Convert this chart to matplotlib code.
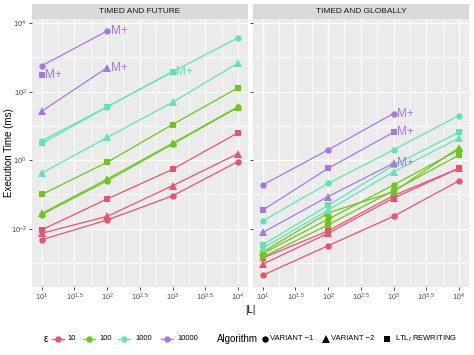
import matplotlib
matplotlib.use("Agg")
import matplotlib.pyplot as plt
import numpy as np
from matplotlib.lines import Line2D

plt.rcParams['font.family'] = ['Liberation Sans', 'DejaVu Sans']
plt.rcParams['mathtext.fontset'] = 'custom'
plt.rcParams['mathtext.rm'] = 'Liberation Sans'
plt.rcParams['mathtext.it'] = 'Liberation Sans:italic'

L = [10, 100, 1000, 10000]
eps_levels = ["10", "100", "1000", "10000"]
algorithms = ["VARIANT \u22121", "VARIANT \u22122", "LTL$_f$ REWRITING"]
nan = np.nan

# Execution time (ms); rows: VARIANT-1 (circle), VARIANT-2 (triangle), LTLf rewriting (square)
future_eps10 = [[0.0048, 0.018, 0.091, 0.91],
                [0.0074, 0.023, 0.18, 1.55],
                [0.0093, 0.074, 0.54, 6.3]]
future_eps100 = [[0.026, 0.25, 2.95, 34.7],
                 [0.028, 0.28, 3.1, 36],
                 [0.10, 0.87, 11, 129]]
future_eps1000 = [[3.7, 36, 380, 3700],
                  [0.42, 4.6, 49, 680],
                  [3.1, 36, 380, nan]]
future_eps10000 = [[570, 5900, nan, nan],
                   [27, 500, nan, nan],
                   [300, nan, nan, nan]]

glob_eps10 = [[0.00044, 0.0032, 0.023, 0.25],
              [0.00093, 0.0074, 0.078, 0.58],
              [0.0014, 0.0087, 0.093, 0.58]]
glob_eps100 = [[0.0019, 0.019, 0.19, 2.0],
               [0.0021, 0.029, 0.12, 2.3],
               [0.0015, 0.013, 0.13, 1.4]]
glob_eps1000 = [[0.017, 0.21, 2.0, 20],
                [0.0027, 0.035, 0.46, 4.4],
                [0.0034, 0.048, 0.71, 6.5]]
glob_eps10000 = [[0.19, 2.0, 23, nan],
                 [0.0078, 0.087, 0.81, nan],
                 [0.035, 0.58, 6.5, nan]]

# series ending in memory-out ("M+"): (eps index, algorithm index)
future_mplus = [(3, 0), (3, 1), (3, 2), (2, 2)]
glob_mplus = [(3, 0), (3, 1), (3, 2)]

panels = [("TIMED AND FUTURE", [future_eps10, future_eps100, future_eps1000, future_eps10000], future_mplus),
          ("TIMED AND GLOBALLY", [glob_eps10, glob_eps100, glob_eps1000, glob_eps10000], glob_mplus)]

colors = ["#F0506E", "#6CC818", "#5CE6B6", "#A678E6"]
markers = ["o", "^", "s"]
msizes = [4.6, 5.2, 4.4]

W, H = 474, 355
fig = plt.figure(figsize=(W / 100, H / 100), dpi=100)

def fx(px):
    return px / W

def fy(py):
    return 1 - py / H

panel_x = [(32, 248), (253, 469)]
top, bottom, strip_top = 19, 287, 4

xmajor = [10 ** e for e in np.arange(1, 4.01, 0.5)]
xminor = [10 ** e for e in np.arange(0.75, 4.3, 0.5)]
xlabels = ["$10^{1}$", "$10^{1.5}$", "$10^{2}$", "$10^{2.5}$", "$10^{3}$", "$10^{3.5}$", "$10^{4}$"]
ymajor = [1e-2, 1, 1e2, 1e4]
yminor = [1e-3, 1e-1, 1e1, 1e3]
ylabels = ["$10^{-2}$", "$10^{0}$", "$10^{2}$", "$10^{4}$"]

tick_col = "#4D4D4D"
for pi, (title, data, mplus) in enumerate(panels):
    x0, x1 = panel_x[pi]
    ax = fig.add_axes([fx(x0), fy(bottom), fx(x1 - x0), (bottom - top) / H])
    ax.set_facecolor("#EBEBEB")
    ax.set_xscale("log")
    ax.set_yscale("log")
    ax.set_xlim(10 ** 0.85, 10 ** 4.155)
    ax.set_ylim(10 ** -3.70, 10 ** 4.12)
    for s in ax.spines.values():
        s.set_visible(False)
    for v in xminor:
        ax.axvline(v, color="white", lw=0.5, zorder=0)
    for v in xmajor:
        ax.axvline(v, color="white", lw=1.0, zorder=0)
    for v in yminor:
        ax.axhline(v, color="white", lw=0.5, zorder=0)
    for v in ymajor:
        ax.axhline(v, color="white", lw=1.0, zorder=0)
    ax.set_xticks(xmajor)
    ax.set_xticklabels(xlabels)
    ax.set_xticks([], minor=True)
    ax.set_yticks(ymajor)
    ax.set_yticks([], minor=True)
    if pi == 0:
        ax.set_yticklabels(ylabels)
    else:
        ax.set_yticklabels([])
        ax.tick_params(axis="y", length=0)
    ax.tick_params(axis="both", labelsize=5.5, colors="#333333", labelcolor=tick_col,
                   length=2.2, width=0.6, pad=1.5)
    for ci, eps_data in enumerate(data):
        for ai, series in enumerate(eps_data):
            y = np.array(series, dtype=float)
            ax.plot(L, y, color=colors[ci], lw=0.9, marker=markers[ai], ms=msizes[ai],
                    markeredgewidth=0, zorder=3)
            if (ci, ai) in mplus:
                idx = np.where(~np.isnan(y))[0][-1]
                ax.annotate("M+", (L[idx], y[idx]), xytext=(2.5, 0), textcoords="offset points",
                            color=colors[ci], fontsize=8.5, va="center", ha="left", zorder=4)
    # strip
    sax = fig.add_axes([fx(x0), fy(top), fx(x1 - x0), (top - strip_top) / H])
    sax.set_facecolor("#D9D9D9")
    sax.set_xticks([])
    sax.set_yticks([])
    for s in sax.spines.values():
        s.set_visible(False)
    sax.text(0.5, 0.5, title, ha="center", va="center", fontsize=6, color="#1A1A1A",
             transform=sax.transAxes)

fig.text(fx(9), fy(153), "Execution Time (ms)", rotation=90, ha="center", va="center",
         fontsize=7, color="black")
fig.text(fx(250), fy(310), "|L|", ha="center", va="center", fontsize=7, color="black")

# legend
ly = fy(339)
fig.text(fx(46), ly, "\u03b5", ha="center", va="center", fontsize=7)
key_x = [58, 89, 124, 167]
lab_x = [67, 99, 135, 177]
for ci in range(4):
    fig.add_artist(Line2D([fx(key_x[ci] - 6), fx(key_x[ci] + 6)], [ly, ly], color=colors[ci], lw=0.9,
                          transform=fig.transFigure))
    fig.add_artist(Line2D([fx(key_x[ci])], [ly], color=colors[ci], marker="o", ms=4.6,
                          markeredgewidth=0, transform=fig.transFigure))
    fig.text(fx(lab_x[ci]), ly, eps_levels[ci], ha="left", va="center", fontsize=5.5, color="black")

fig.text(fx(217), ly, "Algorithm", ha="left", va="center", fontsize=7, color="black")
shape_x = [265, 326, 387]
alg_x = [270, 331, 395]
for ai in range(3):
    fig.add_artist(Line2D([fx(shape_x[ai])], [ly], color="black", marker=markers[ai], ms=msizes[ai],
                          markeredgewidth=0, transform=fig.transFigure))
    fig.text(fx(alg_x[ai]), ly, algorithms[ai], ha="left", va="center", fontsize=5.5, color="black")

fig.savefig("out.png", dpi=100, facecolor="white")
